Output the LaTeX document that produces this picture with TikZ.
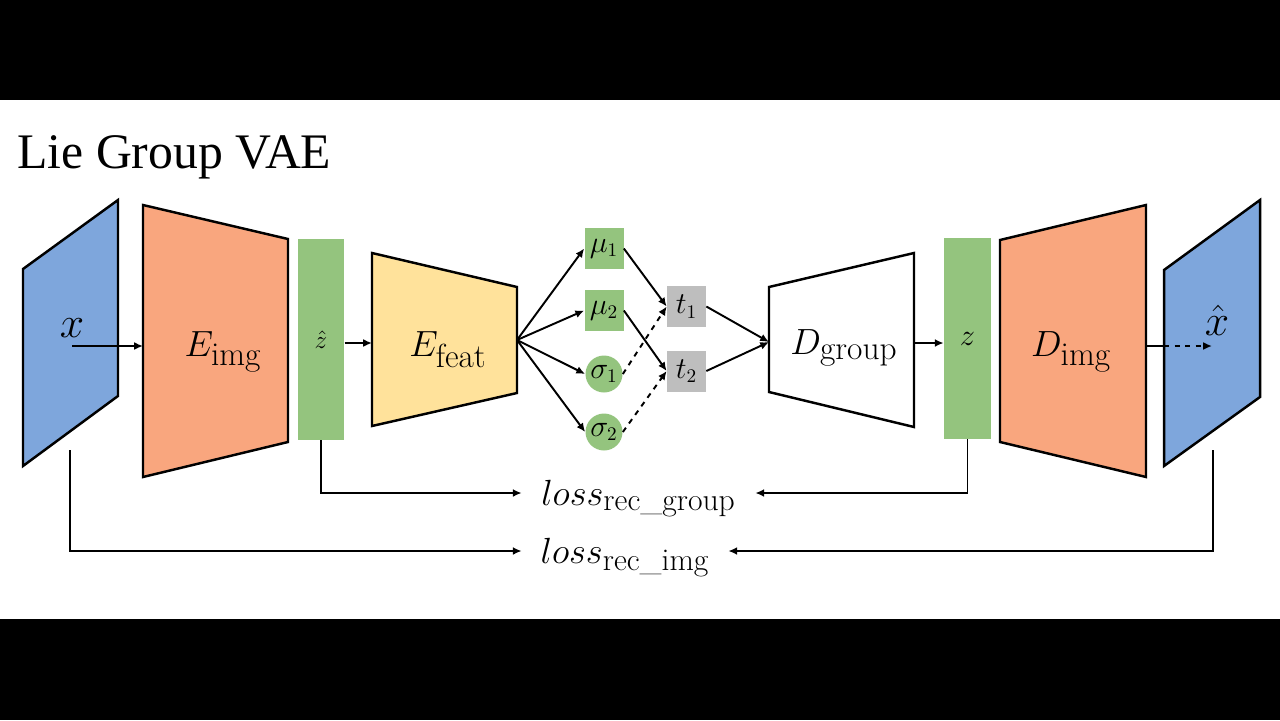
\documentclass[tikz,border=0pt]{standalone}
\usepackage{amsmath}
\usepackage{fontspec}
\usepackage{tikz}
\usetikzlibrary{arrows.meta,calc,positioning}
\newfontfamily\titlefont{Liberation Serif}
\definecolor{imgblue}{HTML}{7EA6DC}
\definecolor{encorange}{HTML}{F9A67E}
\definecolor{latgreen}{HTML}{94C47E}
\definecolor{featyellow}{HTML}{FFE29B}
\definecolor{tgray}{HTML}{BEBEBE}
\newcommand{\fsz}[1]{\fontsize{#1}{#1}\selectfont}
\newcommand{\bigsub}[2]{_{\mbox{\fsz{#1}\rmfamily #2}}}

\begin{document}
\begin{tikzpicture}[x=0.02cm,y=-0.02cm,
  every node/.style={inner sep=0pt},
  arr/.style={-{Latex[length=5pt,width=4.5pt]},line width=1.1pt},
  block/.style={draw,line width=1.4pt,line join=miter},
  latent/.style={fill=latgreen,minimum width=0.93cm,minimum height=4.02cm,font=\fsz{15}},
  param/.style={fill=latgreen,minimum width=0.78cm,minimum height=0.82cm,font=\fsz{16}},
  noise/.style={circle,fill=latgreen,minimum size=0.74cm,font=\fsz{16}},
  tbox/.style={fill=tgray,minimum width=0.78cm,minimum height=0.82cm,font=\fsz{16}},
  net/.style={font=\fsz{20}},
  loss/.style={text height=0.5cm,text depth=0.02cm,font=\fsz{21}}]
  \useasboundingbox (0,0) rectangle (1280,720);
  \fill[black] (0,0) rectangle (1280,100);
  \fill[black] (0,619) rectangle (1280,720);
  \node[anchor=base west,font=\titlefont\fsz{28.3}] (title) at (17,168) {Lie Group VAE};
  % encoder side
  \draw[block,fill=imgblue] (23,269) -- (118,200) -- (118,396) -- (23,466) -- cycle;
  \node[anchor=base,font=\fsz{24}] (xin) at (72,337) {$x$};
  \draw[block,fill=encorange] (143,205) -- (288,239) -- (288,442) -- (143,477) -- cycle;
  \node[net] (eimg) at (223,352) {$E\bigsub{19}{img}$};
  \node[latent] (zhat) at (321,339.5) {$\hat{z}$};
  \draw[block,fill=featyellow] (372,253) -- (517,287) -- (517,393) -- (372,426) -- cycle;
  \node[net] (efeat) at (448,350) {$E\bigsub{19}{feat}$};
  \node[param] (mu1) at (604,248.5) {$\mu_1$};
  \node[param] (mu2) at (604,310.5) {$\mu_2$};
  \node[noise] (sig1) at (604,374) {$\sigma_1$};
  \node[noise] (sig2) at (604,432) {$\sigma_2$};
  \node[tbox] (t1) at (686.5,306.5) {$t_1$};
  \node[tbox] (t2) at (686.5,371) {$t_2$};
  % decoder side
  \draw[block,fill=white] (769,287) -- (914,253) -- (914,427) -- (769,392) -- cycle;
  \node[net] (dgrp) at (844,348) {$D\bigsub{19}{group}$};
  \node[latent,minimum width=0.94cm,font=\fsz{16}] (z) at (967.5,338.5) {$z$};
  \draw[block,fill=encorange] (1000,240) -- (1146,205) -- (1146,477) -- (1000,442) -- cycle;
  \node[net] (dimg) at (1071,352) {$D\bigsub{19}{img}$};
  \draw[block,fill=imgblue] (1164,270) -- (1260,200) -- (1260,397) -- (1164,466) -- cycle;
  \node[anchor=base,font=\fsz{24}] (xout) at (1217,335) {$\hat{x}$};
  \coordinate (xsrc) at (72,346);
  \coordinate (eimgW) at (143,346);
  \coordinate (efeatW) at (372,343);
  \coordinate (efeatE) at (517,340);
  \coordinate (dgrpW) at (769,342);
  \coordinate (dgrpE) at (914,343);
  \coordinate (dimgE) at (1146,346);
  \coordinate (xoutW) at (1164,346);
  \coordinate (xoutC) at (1212,346);
  \coordinate (xbot) at (70,450);
  \coordinate (xoutbot) at (1213,450);
  % connectors
  \draw[arr] (xsrc) -- (eimgW);
  \draw[arr] (zhat.east |- efeatW) -- (efeatW);
  \foreach \p in {mu1,mu2,sig1,sig2}
    \draw[arr] (efeatE) -- (\p.west);
  \draw[arr] (mu1.east) -- (t1.west);
  \draw[arr] (mu2.east) -- (t2.west);
  \draw[arr,dashed] (sig1.east) -- (t1.west);
  \draw[arr,dashed] (sig2.east) -- (t2.west);
  \draw[arr] (t1.east) -- (dgrpW);
  \draw[arr] (t2.east) -- (dgrpW);
  \draw[arr] (dgrpE) -- (z.west |- dgrpE);
  \draw[line width=1.1pt] (dimgE) -- (xoutW);
  \draw[arr,dashed] (xoutW) -- (xoutC);
  % losses
  \node[loss,minimum width=4.66cm] (lossgrp) at (638.5,493) {$loss\bigsub{18}{rec\_group}$};
  \node[loss,minimum width=4.12cm] (lossimg) at (625,551) {$loss\bigsub{18}{rec\_img}$};
  \draw[arr] (zhat.south) |- (lossgrp.west);
  \draw[arr] (z.south) |- (lossgrp.east);
  \draw[arr] (xbot) |- (lossimg.west);
  \draw[arr] (xoutbot) |- (lossimg.east);
\end{tikzpicture}
\end{document}
